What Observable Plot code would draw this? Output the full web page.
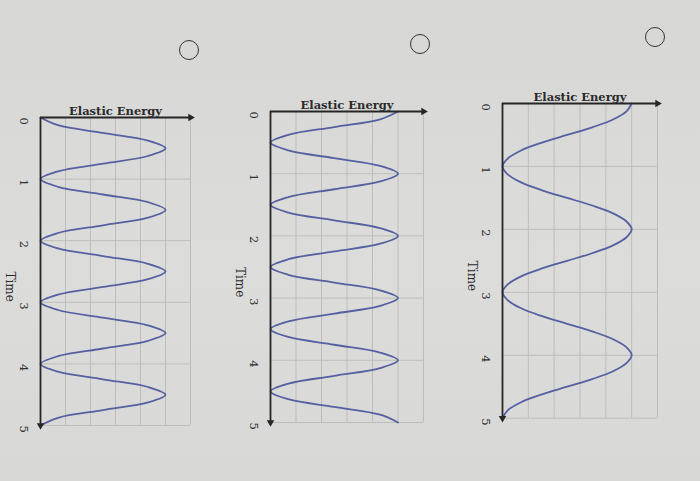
<!DOCTYPE html>
<html>
<head>
<meta charset="utf-8">
<script src="https://cdn.jsdelivr.net/npm/d3@7"></script>
<script src="https://cdn.jsdelivr.net/npm/@observablehq/plot@0.6"></script>
<style>
  html, body { margin: 0; padding: 0; }
  body { width: 700px; height: 481px; overflow: hidden; position: relative;
         background: linear-gradient(180deg, #d7d7d6 0%, #dcdcdb 55%, #d8d8d7 100%); }
  .panel { position: absolute; }
  .radio { position: absolute; width: 18px; height: 18px; border: 1.9px solid #333; border-radius: 50%; }
</style>
</head>
<body>
<script>
// Time samples (every 1/8 time unit)
const time = [0,0.125,0.25,0.375,0.5,0.625,0.75,0.875,1,1.125,1.25,1.375,1.5,1.625,1.75,1.875,2,2.125,2.25,2.375,2.5,2.625,2.75,2.875,3,3.125,3.25,3.375,3.5,3.625,3.75,3.875,4,4.125,4.25,4.375,4.5,4.625,4.75,4.875,5];
// Left panel: starts at 0, period 1
const energyLeft = [0,0.7,2.5,4.3,5,4.3,2.5,0.7,0,0.7,2.5,4.3,5,4.3,2.5,0.7,0,0.7,2.5,4.3,5,4.3,2.5,0.7,0,0.7,2.5,4.3,5,4.3,2.5,0.7,0,0.7,2.5,4.3,5,4.3,2.5,0.7,0];
// Middle panel: starts at max, period 1
const energyMiddle = [5,4.3,2.5,0.7,0,0.7,2.5,4.3,5,4.3,2.5,0.7,0,0.7,2.5,4.3,5,4.3,2.5,0.7,0,0.7,2.5,4.3,5,4.3,2.5,0.7,0,0.7,2.5,4.3,5,4.3,2.5,0.7,0,0.7,2.5,4.3,5];
// Right panel: starts at max, period 2
const energyRight = [5,4.8,4.3,3.5,2.5,1.5,0.7,0.2,0,0.2,0.7,1.5,2.5,3.5,4.3,4.8,5,4.8,4.3,3.5,2.5,1.5,0.7,0.2,0,0.2,0.7,1.5,2.5,3.5,4.3,4.8,5,4.8,4.3,3.5,2.5,1.5,0.7,0.2,0];

const timeTicks = [0,1,2,3,4,5];
const energyGrid = [1,2,3,4,5,6];
const timeGrid = [1,2,3,4,5];
const energyMax = 6;
const timeMax = 5;
const xLabel = "Elastic Energy";
const yLabel = "Time";

const panels = [
  {energy: energyLeft,   left: 0,     top: 86.7, plotW: 150, plotH: 308},
  {energy: energyMiddle, left: 230,   top: 80.7, plotW: 153, plotH: 311},
  {energy: energyRight,  left: 461.7, top: 73.3, plotW: 155, plotH: 314.7}
];
const radios = [[189.6, 50.5], [421, 44.6], [655.7, 38.3]];

const mL = 40, mR = 8, mT = 30, mB = 12;
const axisColor = "#262626";
const gridColor = "#bdbdbc";
const curveColor = "#5560a0";
const fontFamily = "'DejaVu Serif', 'Liberation Serif', serif";

for (const p of panels) {
  const rows = time.map((t, i) => ({t, e: p.energy[i]}));
  const chart = Plot.plot({
    width: mL + p.plotW + mR,
    height: mT + p.plotH + mB,
    marginLeft: mL, marginRight: mR, marginTop: mT, marginBottom: mB,
    style: {background: "transparent", fontFamily, fontSize: "11px", color: "#2a2a2a", overflow: "visible"},
    x: {domain: [0, energyMax], axis: null},
    y: {domain: [0, timeMax], reverse: true, axis: null},
    marks: [
      Plot.ruleX(energyGrid, {y1: 0, y2: timeMax, stroke: gridColor, strokeWidth: 1}),
      Plot.ruleY(timeGrid, {x1: 0, x2: energyMax, stroke: gridColor, strokeWidth: 1}),
      Plot.line(rows, {x: "e", y: "t", curve: "catmull-rom", stroke: curveColor, strokeWidth: 1.8}),
      Plot.ruleX([0], {y1: 0, y2: timeMax, stroke: axisColor, strokeWidth: 1.8}),
      Plot.ruleY([0], {x1: 0, x2: energyMax, stroke: axisColor, strokeWidth: 1.8}),
      Plot.dot([{x: energyMax, y: 0}], {x: "x", y: "y", symbol: "triangle2", r: 3.6, fill: axisColor, rotate: 90}),
      Plot.dot([{x: 0, y: timeMax}], {x: "x", y: "y", symbol: "triangle2", r: 3.6, fill: axisColor, rotate: 180}),
      Plot.text(timeTicks, {y: d => d, frameAnchor: "left", dx: -17, rotate: 90, text: d => String(d), fontSize: 11.5, fill: "#2e2e2e"}),
      Plot.text([yLabel], {frameAnchor: "left", dx: -31, rotate: 90, fontSize: 12, fill: "#2a2a2a"}),
      Plot.text([xLabel], {frameAnchor: "top", dy: -11, fontSize: 11.5, fontWeight: 600, fill: "#2a2a2a"})
    ]
  });
  chart.classList.add("panel");
  chart.style.left = p.left + "px";
  chart.style.top = p.top + "px";
  document.body.appendChild(chart);
}

for (const [cx, cy] of radios) {
  const r = document.createElement("div");
  r.className = "radio";
  r.style.left = (cx - 10.9) + "px";
  r.style.top = (cy - 10.9) + "px";
  document.body.appendChild(r);
}
</script>
</body>
</html>
